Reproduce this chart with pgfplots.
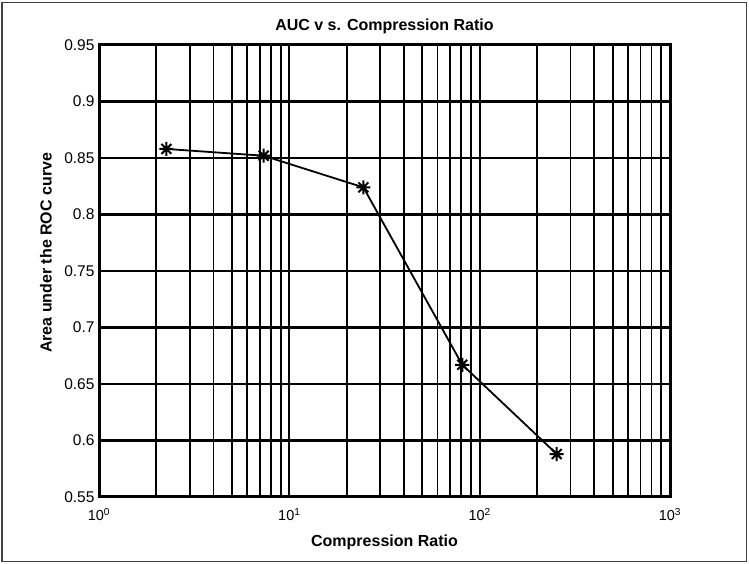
\documentclass[border=0pt]{standalone}
\usepackage{pgfplots}
\pgfplotsset{compat=1.18}
\usepackage{fontspec}
\setmainfont{Liberation Sans}
\pgfdeclareplotmark{mstar}{%
  \pgfpathmoveto{\pgfqpoint{-\pgfplotmarksize}{0pt}}\pgfpathlineto{\pgfqpoint{\pgfplotmarksize}{0pt}}%
  \pgfpathmoveto{\pgfqpoint{0pt}{-\pgfplotmarksize}}\pgfpathlineto{\pgfqpoint{0pt}{\pgfplotmarksize}}%
  \pgfpathmoveto{\pgfqpoint{-.7071\pgfplotmarksize}{-.7071\pgfplotmarksize}}\pgfpathlineto{\pgfqpoint{.7071\pgfplotmarksize}{.7071\pgfplotmarksize}}%
  \pgfpathmoveto{\pgfqpoint{-.7071\pgfplotmarksize}{.7071\pgfplotmarksize}}\pgfpathlineto{\pgfqpoint{.7071\pgfplotmarksize}{-.7071\pgfplotmarksize}}%
  \pgfusepathqstroke}
\begin{document}
\begin{tikzpicture}[x=1pt,y=1pt]
\path[use as bounding box] (0,0) rectangle (749,564);
\draw[black!75, line width=1.6pt] (2,2.5) rectangle (746.5,561.5);
\begin{axis}[
  at={(99pt,67pt)}, anchor=south west,
  scale only axis, width=571pt, height=452pt,
  xmode=log, log basis x=10,
  xmin=1, xmax=1000, ymin=0.55, ymax=0.95,
  xtick={1,10,100,1000},
  xticklabels={10\textsuperscript{0},10\textsuperscript{1},10\textsuperscript{2},10\textsuperscript{3}},
  minor xtick={2,3,4,5,6,7,8,9,20,30,40,50,60,70,80,90,200,300,400,500,600,700,800,900},
  ytick={0.55,0.6,0.65,0.7,0.75,0.8,0.85,0.9,0.95},
  yticklabels={0.55,0.6,0.65,0.7,0.75,0.8,0.85,0.9,0.95},
  grid=both,
  major grid style={black, line width=2.3pt},
  minor grid style={black, line width=1.8pt},
  axis line style={black, line width=3pt},
  tick style={draw=none},
  xticklabel style={font=\fontsize{14.5}{16}\selectfont, yshift=-8pt},
  yticklabel style={font=\fontsize{15.5}{17}\selectfont, xshift=-1pt},
  title={AUC v s. Compression Ratio},
  xlabel={Compression Ratio},
  ylabel={Area under the ROC curve},
  title style={font=\fontsize{16}{19}\selectfont\bfseries, at={(axis description cs:0.5,1.028)}, anchor=center},
  xlabel style={font=\fontsize{16}{19}\selectfont\bfseries, at={(axis description cs:0.5,-0.101)}, anchor=center},
  ylabel style={font=\fontsize{16}{19}\selectfont\bfseries, at={(axis description cs:-0.093,0.54)}, anchor=center},
]
\addplot[black, line width=1.8pt, mark=mstar, mark size=7pt, mark options={line width=2pt, solid}]
  coordinates {(2.26,0.858)(7.33,0.852)(24.5,0.824)(81,0.667)(254,0.588)};
\end{axis}
\end{tikzpicture}
\end{document}
